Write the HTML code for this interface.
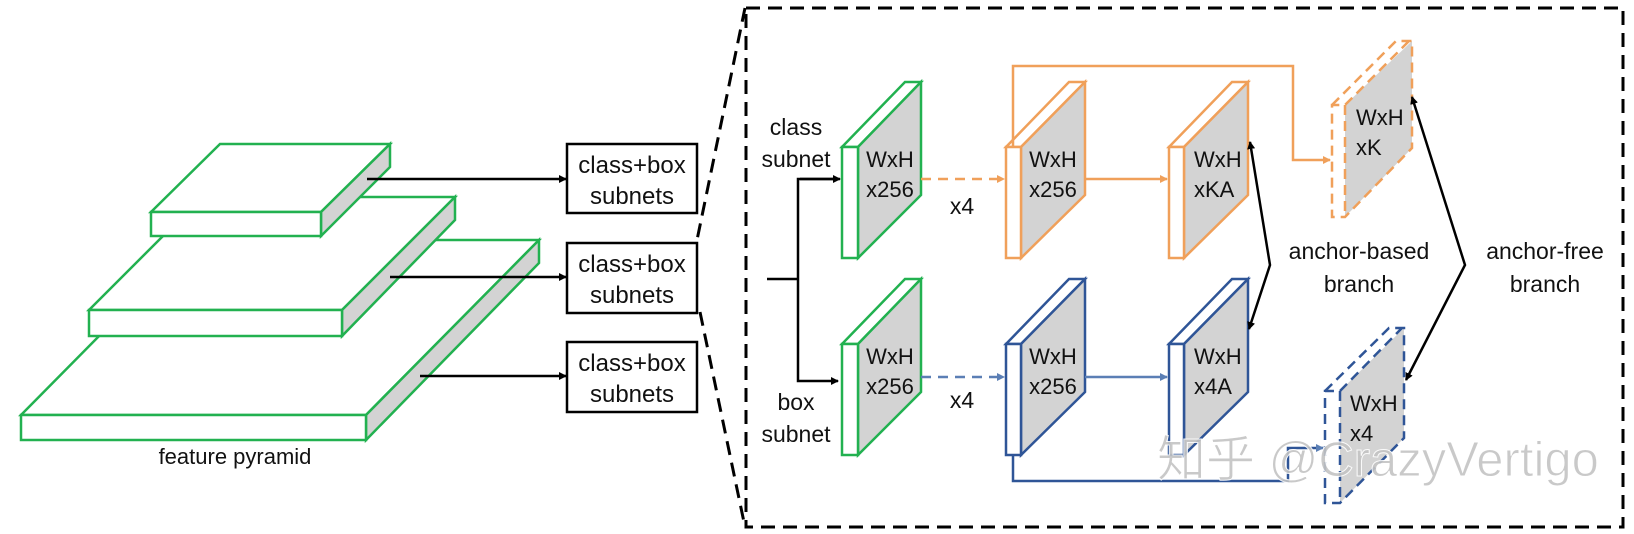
<!DOCTYPE html>
<html><head><meta charset="utf-8"><style>
html,body{margin:0;padding:0;background:#fff;}
svg{display:block}
text{font-family:"Liberation Sans","Noto Sans CJK SC",sans-serif;fill:#111}
</style></head><body>
<svg width="1634" height="534" viewBox="0 0 1634 534" xmlns="http://www.w3.org/2000/svg">
<defs>
<marker id="ak" markerWidth="8" markerHeight="8" refX="7" refY="4" orient="auto" markerUnits="userSpaceOnUse"><path d="M0,0 L8,4 L0,8 z" fill="#000"/></marker>
<marker id="ao" markerWidth="8" markerHeight="8" refX="7" refY="4" orient="auto" markerUnits="userSpaceOnUse"><path d="M0,0 L8,4 L0,8 z" fill="#f0a05a"/></marker>
<marker id="ab" markerWidth="8" markerHeight="8" refX="7" refY="4" orient="auto" markerUnits="userSpaceOnUse"><path d="M0,0 L8,4 L0,8 z" fill="#5b7fb5"/></marker>
<marker id="akb" markerWidth="8" markerHeight="8" refX="1" refY="4" orient="auto" markerUnits="userSpaceOnUse"><path d="M8,0 L0,4 L8,8 z" fill="#000"/></marker>
</defs>

<!-- pyramid -->
<g stroke="#22b150" stroke-width="2.5" stroke-linejoin="miter">
 <polygon points="21,415 194,240 539,240 366,415" fill="#fff"/>
 <polygon points="366,415 539,240 539,263 366,440" fill="#d3d3d3"/>
 <rect x="21" y="415" width="345" height="25" fill="#fff"/>
 <polygon points="89,310 202,197 455,197 342,310" fill="#fff"/>
 <polygon points="342,310 455,197 455,220 342,336" fill="#d3d3d3"/>
 <rect x="89" y="310" width="253" height="26" fill="#fff"/>
 <polygon points="151,212 220,144 390,144 321,212" fill="#fff"/>
 <polygon points="321,212 390,144 390,167 321,236" fill="#d3d3d3"/>
 <rect x="151" y="212" width="170" height="24" fill="#fff"/>
</g>
<text x="235" y="464" font-size="22" text-anchor="middle">feature pyramid</text>

<g stroke="#000" stroke-width="2.5" marker-end="url(#ak)">
 <line x1="367" y1="179" x2="566" y2="179"/>
 <line x1="390" y1="277" x2="566" y2="277"/>
 <line x1="420" y1="376" x2="566" y2="376"/>
</g>
<g stroke="#000" stroke-width="2.5" fill="#fff">
 <rect x="567" y="144" width="130" height="69"/>
 <rect x="567" y="243" width="130" height="70"/>
 <rect x="567" y="342" width="130" height="70"/>
</g>
<g font-size="24" text-anchor="middle">
 <text x="632" y="173">class+box</text><text x="632" y="204">subnets</text>
 <text x="632" y="272">class+box</text><text x="632" y="303">subnets</text>
 <text x="632" y="371">class+box</text><text x="632" y="402">subnets</text>
</g>

<g stroke="#000" stroke-width="3" stroke-dasharray="14,8" fill="none">
 <rect x="746" y="8" width="877" height="519"/>
 <line x1="745" y1="8" x2="697" y2="240"/>
 <line x1="700" y1="312" x2="745" y2="527"/>
</g>

<g font-size="23" text-anchor="middle">
 <text x="796" y="135">class</text><text x="796" y="167">subnet</text>
 <text x="796" y="410">box</text><text x="796" y="442">subnet</text>
 <text x="962" y="214">x4</text><text x="962" y="408">x4</text>
</g>
<g stroke="#000" stroke-width="2.5" fill="none">
 <polyline points="767,279 798,279"/>
 <polyline points="838,179 798,179 798,381 838,381" marker-end="url(#ak)"/>
 <line x1="800" y1="179" x2="840" y2="179" marker-end="url(#ak)"/>
</g>

<g stroke="#22b150" stroke-width="2.5" stroke-linejoin="miter">
 <polygon points="842,147 905,82 921,82 858,147" fill="#fff"/>
 <polygon points="858,147 921,82 921,195 858,258" fill="#d3d3d3"/>
 <rect x="842" y="147" width="16" height="111" fill="#fff"/>
 <polygon points="842,344 905,279 921,279 858,344" fill="#fff"/>
 <polygon points="858,344 921,279 921,392 858,455" fill="#d3d3d3"/>
 <rect x="842" y="344" width="16" height="111" fill="#fff"/>
</g>
<g stroke="#f0a05a" stroke-width="2.5">
 <polygon points="1006,147 1069,82 1085,82 1021,147" fill="#fff"/>
 <polygon points="1021,147 1085,82 1085,195 1021,258" fill="#d3d3d3"/>
 <rect x="1006" y="147" width="15" height="111" fill="#fff"/>
 <polygon points="1169,147 1232,82 1248,82 1184,147" fill="#fff"/>
 <polygon points="1184,147 1248,82 1248,195 1184,258" fill="#d3d3d3"/>
 <rect x="1169" y="147" width="15" height="111" fill="#fff"/>
</g>
<g stroke="#2f5597" stroke-width="2.5">
 <polygon points="1006,344 1069,279 1085,279 1021,344" fill="#fff"/>
 <polygon points="1021,344 1085,279 1085,392 1021,455" fill="#d3d3d3"/>
 <rect x="1006" y="344" width="15" height="111" fill="#fff"/>
 <polygon points="1169,344 1232,279 1248,279 1184,344" fill="#fff"/>
 <polygon points="1184,344 1248,279 1248,392 1184,455" fill="#d3d3d3"/>
 <rect x="1169" y="344" width="15" height="111" fill="#fff"/>
</g>
<g stroke="#f0a05a" stroke-width="2.5" stroke-dasharray="10,6">
 <polygon points="1345,105 1412,41 1412,148 1345,217" fill="#d3d3d3" stroke="none"/>
 <polyline points="1332,105 1396,41 1412,41 1412,148 1345,217 1332,217 1332,105 1345,105 1409,41" fill="none"/>
 <line x1="1345" y1="105" x2="1345" y2="217"/>
</g>
<g stroke="#2f5597" stroke-width="2.5" stroke-dasharray="10,6">
 <polygon points="1340,391 1404,328 1404,438 1340,503" fill="#d3d3d3" stroke="none"/>
 <polyline points="1325,391 1389,328 1404,328 1404,438 1340,503 1325,503 1325,391 1340,391 1402,328" fill="none"/>
 <line x1="1340" y1="391" x2="1340" y2="503"/>
</g>

<g font-size="22">
 <text x="890" y="167" text-anchor="middle">WxH</text><text x="890" y="197" text-anchor="middle">x256</text>
 <text x="890" y="364" text-anchor="middle">WxH</text><text x="890" y="394" text-anchor="middle">x256</text>
 <text x="1053" y="167" text-anchor="middle">WxH</text><text x="1053" y="197" text-anchor="middle">x256</text>
 <text x="1053" y="364" text-anchor="middle">WxH</text><text x="1053" y="394" text-anchor="middle">x256</text>
 <text x="1194" y="167">WxH</text><text x="1194" y="197">xKA</text>
 <text x="1194" y="364">WxH</text><text x="1194" y="394">x4A</text>
 <text x="1356" y="125">WxH</text><text x="1356" y="155">xK</text>
 <text x="1350" y="411">WxH</text><text x="1350" y="441">x4</text>
</g>

<g stroke="#f0a05a" stroke-width="2.5" fill="none">
 <line x1="921" y1="179" x2="1004" y2="179" stroke-dasharray="10,7" marker-end="url(#ao)"/>
 <line x1="1085" y1="179" x2="1167" y2="179" marker-end="url(#ao)"/>
 <polyline points="1013,147 1013,66 1293,66 1293,160 1330,160" marker-end="url(#ao)"/>
</g>
<g stroke="#5b7fb5" stroke-width="2.5" fill="none">
 <line x1="921" y1="377" x2="1004" y2="377" stroke-dasharray="10,7" marker-end="url(#ab)"/>
 <line x1="1085" y1="377" x2="1167" y2="377" marker-end="url(#ab)"/>
</g>
<polyline points="1013,455 1013,481 1288,481 1288,448 1323,448" stroke="#2f5597" stroke-width="2.5" fill="none" marker-end="url(#ab)"/>

<g stroke="#000" stroke-width="2.5" fill="none">
 <polyline points="1250,142 1270,265 1249,329" marker-start="url(#akb)" marker-end="url(#ak)"/>
 <polyline points="1412,97 1465,265 1406,380" marker-start="url(#akb)" marker-end="url(#ak)"/>
</g>
<g font-size="23" text-anchor="middle">
 <text x="1359" y="259">anchor-based</text><text x="1359" y="292">branch</text>
 <text x="1545" y="259">anchor-free</text><text x="1545" y="292">branch</text>
</g>

<text x="1157" y="476" font-size="49" style="fill:#c4c4c4" stroke="#fff" stroke-width="1" opacity="0.9">知乎 @CrazyVertigo</text>
</svg>
</body></html>
